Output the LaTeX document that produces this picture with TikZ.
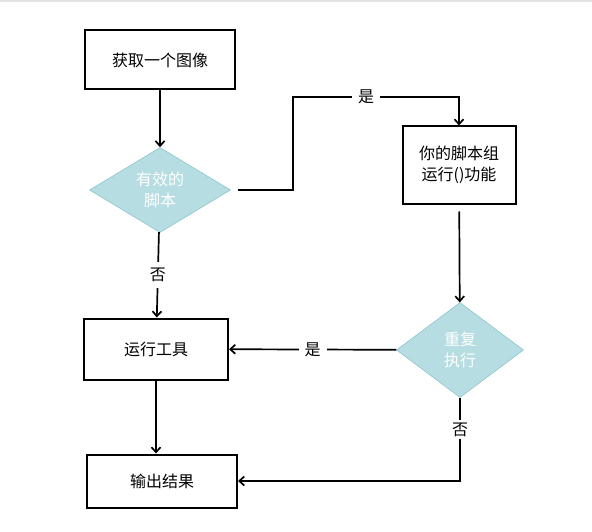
\documentclass[tikz,border=0pt]{standalone}
\usepackage{fontspec}
\setmainfont{Noto Sans CJK SC}
\usetikzlibrary{shapes.geometric,arrows.meta}

\definecolor{teal fill}{HTML}{B6DDE2}
\definecolor{teal line}{HTML}{8CC5CB}

\begin{document}
\begin{tikzpicture}[x=1pt,y=-1pt,>={Straight Barb[length=5pt,width=9pt]},
    font=\fontsize{16}{21}\selectfont]

      \useasboundingbox (0,0) rectangle (592,532);
      \fill[gray!22] (0,0) rectangle (592,2.5);

      \begin{scope}[every node/.style={draw,line width=2pt,align=center}]
        \node[minimum width=150pt,minimum height=59pt] (1) at (160,60)  {获取一个图像};
        \node[minimum width=113pt,minimum height=77pt] (4) at (459,165) {你的脚本组\\运行()功能};
        \node[minimum width=144pt,minimum height=61pt] (3) at (156,349) {运行工具};
        \node[minimum width=150pt,minimum height=53pt] (6) at (162,481) {输出结果};
      \end{scope}

      \begin{scope}[every node/.style={diamond,draw=teal line,fill=teal fill,
          text=white,inner sep=0pt,line width=0.6pt,align=center}]
        \node[minimum width=141pt,minimum height=85pt] (2) at (160,190) {有效的\\脚本};
        \node[minimum width=127pt,minimum height=95pt] (5) at (460,350) {重复\\执行};
      \end{scope}

      \coordinate (k) at (293,97);

      \begin{scope}[every node/.style={fill=white,inner sep=6pt}]

        \begin{scope}[every edge/.style={draw,line width=1.7pt}]
          \path[->] (1) edge (2);
          \path[->] (2) edge node {否} (3);
          \path[->] (4) edge[shorten <=7pt] (5);
          \path[->] (5) edge node {是} (3);
        \end{scope}

        \draw[->,line width=1.7pt,shorten <=7pt] (2.east) -| (k) -| node[pos=0.22] {是} (4.north);
        \draw[->,line width=1.7pt] (5.south) |- node[pos=0.19,inner sep=3pt] {否} (6.east);
        \draw[->,line width=1.7pt] (3.south) -- (3.south |- 6.north);
      \end{scope}

    \end{tikzpicture}
\end{document}
